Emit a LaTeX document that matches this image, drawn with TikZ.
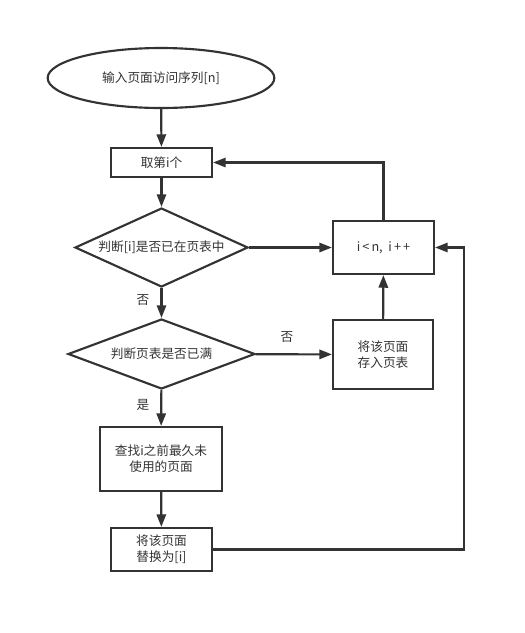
\documentclass[tikz,border=0pt]{standalone}
\usepackage{fontspec}
\newfontfamily\cjk{Noto Sans CJK SC}
\usetikzlibrary{shapes.geometric,arrows.meta}
\definecolor{ink}{HTML}{333333}

\begin{document}
\begin{tikzpicture}[x=0.75pt,y=-0.75pt,
  every node/.style={font=\cjk\fontsize{9.5}{12}\selectfont,text=ink,align=center},
  box/.style={draw=ink,line width=1.6pt,rectangle,inner sep=0pt},
  choice/.style={draw=ink,line width=1.6pt,diamond,inner sep=0pt},
  flow/.style={draw=ink,line width=1.6pt,-{Triangle[length=9.5pt,width=7pt]}},
  link/.style={draw=ink,line width=1.6pt}]
\useasboundingbox (0,0) rectangle (525,633);

\node[draw=ink,line width=1.6pt,ellipse,minimum width=170pt,minimum height=45pt] (input) at (161,78) {输入页面访问序列[n]};
\node[box,minimum width=75.75pt,minimum height=21.75pt] (take) at (161.5,162.5) {取第i个};
\node[choice,aspect=2.2,minimum width=129.75pt,minimum height=59.25pt] (inpage) at (161.5,247.5) {判断[i]是否已在页表中};
\node[box,minimum width=75.75pt,minimum height=39.75pt] (next) at (383.5,247.5) {i\,<\,n,\ \ i\,+\,+};
\node[choice,aspect=2.67,minimum width=140.25pt,minimum height=52.5pt] (full) at (161.5,354) {判断页表是否已满};
\node[box,minimum width=75pt,minimum height=51.75pt] (store) at (383,354.5) {将该页面\\存入页表};
\node[box,minimum width=91.5pt,minimum height=48pt] (find) at (161,459) {查找i之前最久未\\使用的页面};
\node[box,minimum width=75.75pt,minimum height=32.25pt] (swap) at (161.5,549.5) {将该页面\\替换为[i]};

\coordinate (c1) at (383.5,162.5);
\coordinate (c2) at (464,549.5);
\coordinate (c3) at (464,247.5);

\draw[flow] (input) -- (take);
\draw[flow] (take) -- (inpage);
\draw[flow] (inpage) -- (next);
\draw[flow] (inpage) -- (full);
\draw[flow] (full) -- (store);
\draw[flow] (full) -- (find);
\draw[flow] (find) -- (swap);
\draw[flow] (store) -- (next);
\draw[flow] (next.north) -- (c1) -- (take.east);
\draw[flow] (swap.east) -- (c2) -- (c3) -- (next.east);

\node (no1) at (143,300) {否};
\node (no2) at (287,337) {否};
\node (yes) at (143,405) {是};
\end{tikzpicture}
\end{document}
